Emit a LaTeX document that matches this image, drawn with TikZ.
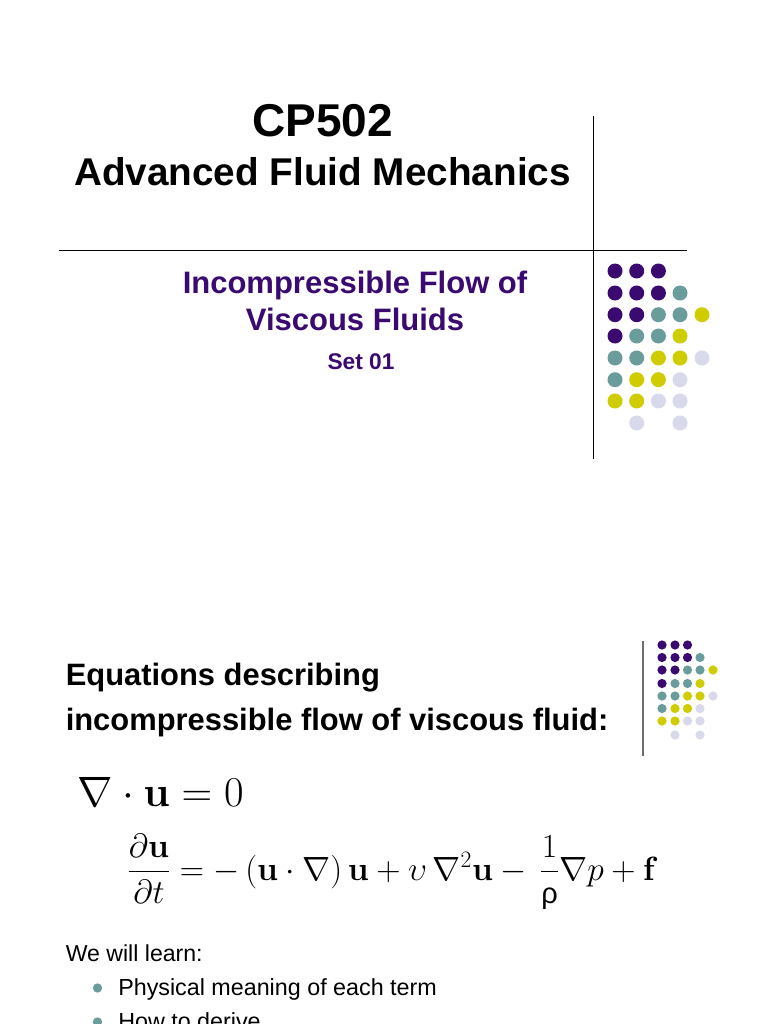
\RequirePackage{fix-cm}
\documentclass[tikz,border=0pt]{standalone}
\usepackage[no-math]{fontspec}
\usepackage{amsmath}
\setmainfont{Liberation Sans}
\definecolor{dpurple}{HTML}{3A0A70}
\definecolor{dteal}{HTML}{6A9C9C}
\definecolor{dyellow}{HTML}{CFCC00}
\definecolor{dlav}{HTML}{D9D9EC}
\definecolor{linegray}{HTML}{6E6E6E}
\newcommand{\px}[1]{\fontsize{\fpeval{#1*0.75}}{\fpeval{#1*0.9}}\selectfont}
\tikzset{
  txt/.style={inner sep=0pt,anchor=base west,text=black},
  ttl/.style={inner sep=0pt,anchor=base,font=\bfseries},
  sub/.style={ttl,text=dpurple},
  dotbig/.style={circle,inner sep=0pt,minimum size=11.25pt},
  dotsmall/.style={circle,inner sep=0pt,minimum size=6.9pt},
  rule/.style={line width=0.7pt,black},
  P/.style={fill=dpurple},T/.style={fill=dteal},Y/.style={fill=dyellow},L/.style={fill=dlav}
}
\begin{document}
\begin{tikzpicture}[x=0.75pt,y=-0.75pt]
\useasboundingbox (0,0) rectangle (768,1024);
\clip (0,0) rectangle (768,1024);
\fill[white] (0,0) rectangle (768,1024);
% rules
\coordinate (v1a) at (593.5,116); \coordinate (v1b) at (593.5,459);
\coordinate (h1a) at (59,250); \coordinate (h1b) at (687,250);
\draw[rule] (v1a) -- (v1b);
\draw[rule] (h1a) -- (h1b);
\coordinate (v2a) at (643,641); \coordinate (v2b) at (643,756);
\draw[line width=1.1pt,linegray] (v2a) -- (v2b);
% titles
\node[ttl] (cp) at (322.5,137) {\px{46}CP502};
\node[ttl] (afm) at (322.5,185) {\px{38.7}Advanced Fluid Mechanics};
\node[sub] (s1) at (355,293) {\px{31}Incompressible Flow of};
\node[sub] (s2) at (355,330) {\px{31}Viscous Fluids};
\node[sub] (s3) at (361,369) {\px{22.7}Set 01};
% large dot grid
\foreach \x/\y/\c in {
 615/271/P,636.7/271/P,658.4/271/P,
 615/293/P,636.7/293/P,658.4/293/P,680/293/T,
 615/314.7/P,636.7/314.7/P,658.4/314.7/T,680/314.7/T,702/314.7/Y,
 615/336/P,636.7/336/T,658.4/336/T,680/336/Y,
 615/358/T,636.7/358/T,658.4/358/Y,680/358/Y,702/358/L,
 615/379.7/T,636.7/379.7/Y,658.4/379.7/Y,680/379.7/L,
 615/401/Y,636.7/401/Y,658.4/401/L,680/401/L,
 636.7/423/L,680/423/L}
  \node[dotbig,\c] at (\x,\y) {};
% small dot grid
\foreach \x/\y/\c in {
 662/645/P,675/645/P,687.5/645/P,
 662/657.5/P,675/657.5/P,687.5/657.5/P,700/657.5/T,
 662/670/P,675/670/P,687.5/670/T,700/670/T,713/670/Y,
 662/683.5/P,675/683.5/T,687.5/683.5/T,700/683.5/Y,
 662/696/T,675/696/T,687.5/696/Y,700/696/Y,713/696/L,
 662/708.5/T,675/708.5/Y,687.5/708.5/Y,700/708.5/L,
 662/721/Y,675/721/Y,687.5/721/L,700/721/L,
 675/735/L,700/735/L}
  \node[dotsmall,\c] at (\x,\y) {};
% heading
\node[txt,font=\bfseries] (h1) at (65.5,685) {\px{30.9}Equations describing};
\node[txt,font=\bfseries] (h2) at (65.5,730) {\px{30.9}incompressible flow of viscous fluid:};
% equations
\node[txt] (e1) at (77,806) {\px{42.5}$\nabla\cdot\mathbf{u}=0$};
\node[txt] (e2) at (127,880) {\px{33.6}$\dfrac{\partial\mathbf{u}}{\partial t}=-\,(\mathbf{u}\cdot\nabla)\,\mathbf{u}+\upsilon\,\nabla^{2}\mathbf{u}-\,\dfrac{1}{\text{\px{29}ρ}}\nabla p+\mathbf{f}$};
% list
\node[txt] (w) at (65.5,961) {\px{23.1}We will learn:};
\node[circle,inner sep=0pt,minimum size=7pt,fill=dteal] (b1) at (97.5,988) {};
\node[txt] (t1) at (118,995) {\px{23.3}Physical meaning of each term};
\node[circle,inner sep=0pt,minimum size=7pt,fill=dteal] (b2) at (97.5,1022) {};
\node[txt] (t2) at (118,1029) {\px{23.3}How to derive};
\end{tikzpicture}
\end{document}
